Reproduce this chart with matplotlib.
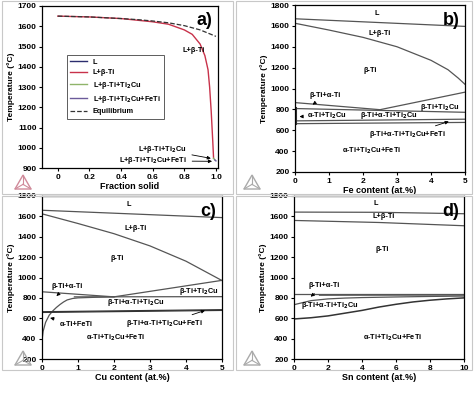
import matplotlib
matplotlib.use('Agg')
import matplotlib.pyplot as plt
from matplotlib.patches import Rectangle, Polygon
from matplotlib.lines import Line2D

plt.rcParams['font.family'] = ['Liberation Sans', 'DejaVu Sans']
plt.rcParams['font.weight'] = 'bold'
plt.rcParams['axes.labelweight'] = 'bold'

# ---- panel a: Scheil solidification ----
fs_beta = [0, 0.2, 0.4, 0.6, 0.7, 0.8, 0.85, 0.9, 0.93, 0.95, 0.96, 0.97, 0.98, 0.985]
T_beta = [1650, 1646, 1638, 1622, 1610, 1582, 1560, 1512, 1455, 1385, 1300, 1180, 1030, 948]
fs_ti2cu = [0.985, 0.993]
T_ti2cu = [948, 940]
fs_feti = [0.993, 1.0]
T_feti = [940, 935]
fs_eq = [0, 0.2, 0.4, 0.5, 0.6, 0.7, 0.8, 0.9, 1.0]
T_eq = [1650, 1646, 1638, 1633, 1626, 1617, 1603, 1582, 1550]

# ---- panel b: Fe section ----
fe_liq_x = [0, 5]
fe_liq_y = [1668, 1595]
fe_sol_x = [0, 1, 2, 3, 4, 4.5, 4.8, 5]
fe_sol_y = [1625, 1560, 1490, 1400, 1270, 1180, 1100, 1040]
fe_tr_x = [0, 2.5, 5]
fe_tr_y = [865, 797, 965]
fe_l1_x = [0, 5]
fe_l1_y = [808, 772]
fe_l2_x = [0.05, 5]
fe_l2_y = [690, 706]
fe_l3_x = [0, 5]
fe_l3_y = [663, 675]
fe_v_x = [0.04, 0.04]
fe_v_y = [660, 810]

# ---- panel c: Cu section ----
cu_liq_x = [0, 5]
cu_liq_y = [1660, 1588]
cu_sol_x = [0, 1, 2, 3, 4, 5]
cu_sol_y = [1625, 1530, 1430, 1310, 1160, 970]
cu_tr_x = [0, 2, 5]
cu_tr_y = [860, 810, 972]
cu_h_x = [0.9, 5]
cu_h_y = [810, 812]
cu_c_x = [0, 0.03, 0.1, 0.2, 0.3, 0.4, 0.5, 0.6, 0.7, 0.85, 1.0, 1.5, 2.0]
cu_c_y = [380, 470, 560, 630, 672, 706, 735, 760, 780, 794, 800, 806, 810]
cu_e1_x = [0, 5]
cu_e1_y = [657, 677]
cu_e2_x = [0, 5]
cu_e2_y = [664, 684]

# ---- panel d: Sn section ----
sn_liq_x = [0, 5, 10]
sn_liq_y = [1642, 1640, 1626]
sn_sol_x = [0, 5, 10]
sn_sol_y = [1560, 1540, 1508]
sn_top_x = [0, 10]
sn_top_y = [840, 840]
sn_top2_x = [1.5, 10]
sn_top2_y = [826, 828]
sn_mid_x = [0, 1, 2, 3, 4, 6, 8, 10]
sn_mid_y = [733, 773, 790, 798, 803, 809, 814, 818]
sn_low_x = [0, 1, 2, 3, 4, 5, 6, 7, 8, 9, 10]
sn_low_y = [593, 605, 623, 650, 677, 710, 737, 760, 777, 790, 800]

fig = plt.figure(figsize=(4.74, 3.93), dpi=100)

# panel frames
for (x0, y0, w, h) in [(2, 1, 231, 193), (236, 1, 236, 193), (2, 196, 231, 174), (236, 196, 236, 174)]:
    fig.patches.append(Rectangle((x0 / 474, 1 - (y0 + h) / 393), w / 474, h / 393,
                                 transform=fig.transFigure, fill=False, ec='#c8c8c8', lw=0.8))


def logo(px, py, color):
    s = 16
    pts = [(px, py), (px + s, py), (px + s / 2, py - s * 0.87)]
    pts = [(x / 474, 1 - y / 393) for x, y in pts]
    fig.patches.append(Polygon(pts, closed=True, fill=False, ec=color, lw=1.0, transform=fig.transFigure))
    cx = sum(p[0] for p in pts) / 3
    cy = sum(p[1] for p in pts) / 3
    for p in pts:
        fig.lines.append(Line2D([p[0], cx], [p[1], cy], color=color, lw=0.8, transform=fig.transFigure))


def style(ax, xlabel, tag):
    ax.set_ylabel('Temperature (°C)', fontsize=6, labelpad=2)
    ax.set_xlabel(xlabel, fontsize=6.5, labelpad=1)
    ax.tick_params(labelsize=6, length=2.5, width=0.8, pad=1.5)
    for sp in ax.spines.values():
        sp.set_linewidth(0.9)
    ax.text(0.97, 0.96, tag, transform=ax.transAxes, ha='right', va='top', fontsize=13, fontweight='bold')


lab = dict(fontsize=5.3, fontweight='bold', ha='center', va='center')
arr = dict(arrowstyle='-|>', color='black', lw=0.6, mutation_scale=5)
line = dict(color='#555555', lw=0.9)

# ---- a ----
ax = fig.add_axes([42 / 474, 1 - 168 / 393, 176 / 474, 162 / 393])
ax.plot([0], [1650], color='#2b2d6e', lw=1, label='L')
ax.plot(fs_beta, T_beta, color='#c8324a', lw=1, label='L+β-Ti')
ax.plot(fs_ti2cu, T_ti2cu, color='#8fb46a', lw=1, label='L+β-Ti+Ti$_2$Cu')
ax.plot(fs_feti, T_feti, color='#6b5b9a', lw=1, label='L+β-Ti+Ti$_2$Cu+FeTi')
ax.plot(fs_eq, T_eq, color='#333333', lw=0.9, ls='--', label='Equilibrium')
ax.set_xlim(-0.1, 1.013)
ax.set_ylim(900, 1700)
ax.set_xticks([0, 0.2, 0.4, 0.6, 0.8, 1.0])
ax.set_xticklabels(['0', '0.2', '0.4', '0.6', '0.8', '1.0'])
ax.set_yticks(range(900, 1701, 100))
leg = ax.legend(loc='center left', bbox_to_anchor=(0.12, 0.5), fontsize=5.3, frameon=True, fancybox=False,
                edgecolor='#333333', handlelength=2.2, borderpad=0.5, labelspacing=0.45)
leg.get_frame().set_linewidth(0.7)
ax.text(0.86, 1480, 'L+β-Ti', **lab)
ax.annotate('L+β-Ti+Ti$_2$Cu', xy=(0.985, 945), xytext=(0.66, 992), arrowprops=arr, **lab)
ax.annotate('L+β-Ti+Ti$_2$Cu+FeTi', xy=(0.993, 933), xytext=(0.6, 935), arrowprops=arr, **lab)
style(ax, 'Fraction solid', 'a)')

# ---- b ----
ax = fig.add_axes([295 / 474, 1 - 172 / 393, 170 / 474, 167 / 393])
for xs, ys in [(fe_liq_x, fe_liq_y), (fe_sol_x, fe_sol_y), (fe_tr_x, fe_tr_y), (fe_l1_x, fe_l1_y),
               (fe_l2_x, fe_l2_y), (fe_l3_x, fe_l3_y)]:
    ax.plot(xs, ys, **line)
ax.plot(fe_v_x, fe_v_y, color='#333333', lw=1.5)
ax.set_xlim(0, 5)
ax.set_ylim(200, 1800)
ax.set_yticks(range(200, 1801, 200))
ax.text(2.4, 1720, 'L', **lab)
ax.text(2.5, 1530, 'L+β-Ti', **lab)
ax.text(2.2, 1170, 'β-Ti', **lab)
ax.annotate('β-Ti+α-Ti', xy=(0.45, 830), xytext=(0.9, 935), arrowprops=arr, **lab)
ax.text(4.25, 815, 'β-Ti+Ti$_2$Cu', **lab)
ax.annotate('α-Ti+Ti$_2$Cu', xy=(0.05, 730), xytext=(0.95, 738), arrowprops=arr, **lab)
ax.text(2.75, 738, 'β-Ti+α-Ti+Ti$_2$Cu', **lab)
ax.annotate('β-Ti+α-Ti+Ti$_2$Cu+FeTi', xy=(4.6, 692), xytext=(3.3, 555), arrowprops=arr, **lab)
ax.text(2.25, 405, 'α-Ti+Ti$_2$Cu+FeTi', **lab)
style(ax, 'Fe content (at.%)', 'b)')

# ---- c ----
ax = fig.add_axes([42 / 474, 1 - 359 / 393, 180 / 474, 163 / 393])
for xs, ys in [(cu_liq_x, cu_liq_y), (cu_sol_x, cu_sol_y), (cu_tr_x, cu_tr_y), (cu_h_x, cu_h_y),
               (cu_c_x, cu_c_y)]:
    ax.plot(xs, ys, **line)
ax.plot(cu_e1_x, cu_e1_y, color='#333333', lw=0.9)
ax.plot(cu_e2_x, cu_e2_y, color='#333333', lw=0.9)
ax.set_xlim(0, 5)
ax.set_ylim(200, 1800)
ax.set_yticks(range(200, 1801, 200))
ax.text(2.4, 1720, 'L', **lab)
ax.text(2.6, 1480, 'L+β-Ti', **lab)
ax.text(2.1, 1190, 'β-Ti', **lab)
ax.annotate('β-Ti+α-Ti', xy=(0.4, 818), xytext=(0.7, 915), arrowprops=arr, **lab)
ax.text(4.35, 860, 'β-Ti+Ti$_2$Cu', **lab)
ax.text(2.6, 755, 'β-Ti+α-Ti+Ti$_2$Cu', **lab)
ax.annotate('α-Ti+FeTi', xy=(0.15, 610), xytext=(0.95, 540), arrowprops=arr, **lab)
ax.annotate('β-Ti+α-Ti+Ti$_2$Cu+FeTi', xy=(4.6, 685), xytext=(3.4, 545), arrowprops=arr, **lab)
ax.text(2.05, 405, 'α-Ti+Ti$_2$Cu+FeTi', **lab)
style(ax, 'Cu content (at.%)', 'c)')

# ---- d ----
ax = fig.add_axes([294 / 474, 1 - 359 / 393, 170 / 474, 163 / 393])
for xs, ys in [(sn_liq_x, sn_liq_y), (sn_sol_x, sn_sol_y), (sn_top_x, sn_top_y), (sn_top2_x, sn_top2_y),
               (sn_mid_x, sn_mid_y)]:
    ax.plot(xs, ys, **line)
ax.plot(sn_low_x, sn_low_y, color='#333333', lw=1.1)
ax.set_xlim(0, 10)
ax.set_ylim(200, 1800)
ax.set_yticks(range(200, 1801, 200))
ax.set_xticks(range(0, 11, 2))
ax.text(4.8, 1730, 'L', **lab)
ax.text(5.3, 1600, 'L+β-Ti', **lab)
ax.text(5.2, 1270, 'β-Ti', **lab)
ax.annotate('β-Ti+α-Ti', xy=(0.85, 795), xytext=(1.8, 920), arrowprops=arr, **lab)
ax.text(2.1, 722, 'β-Ti+α-Ti+Ti$_2$Cu', **lab)
ax.text(5.8, 405, 'α-Ti+Ti$_2$Cu+FeTi', **lab)
style(ax, 'Sn content (at.%)', 'd)')

logo(15, 189, '#d08a9a')
logo(244, 189, '#aaaaaa')
logo(15, 365, '#aaaaaa')
logo(244, 365, '#aaaaaa')

fig.savefig('out.png', dpi=100)
